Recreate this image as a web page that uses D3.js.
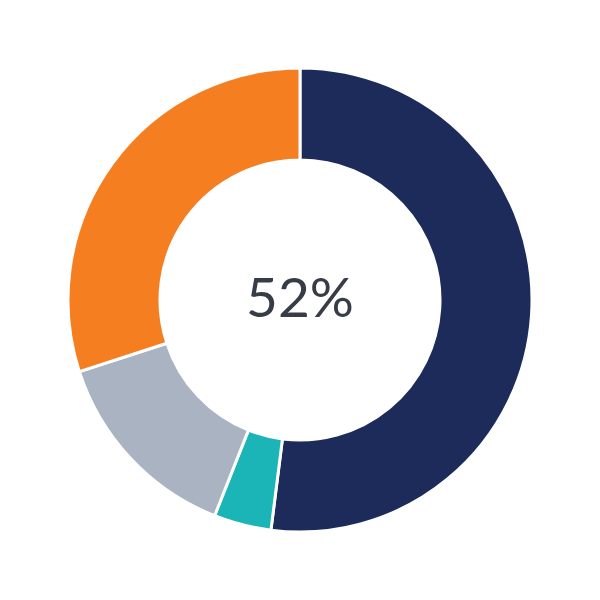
<!DOCTYPE html>
<html>
<head>
<meta charset="utf-8">
<script src="https://cdn.jsdelivr.net/npm/d3@7"></script>
<style>
  body { margin: 0; background: #fff; }
</style>
</head>
<body>
<div class="chart"></div>
<script>
const labels = ["A", "B", "C", "D"]
const values = [52, 4, 14, 30]
const colors = ["#1c2b5a", "#1bb5b8", "#a9b3c2", "#f47e20"]
const centerLabel = "52%"

const width = 600
const height = 600
const outer = 232
const inner = 140

const svg = d3.select(".chart")
  .append("svg")
  .attr("width", width)
  .attr("height", height)

const g = svg.append("g")
  .attr("transform", `translate(${width / 2},${height / 2})`)

const pie = d3.pie().sort(null).value(d => d)
const arc = d3.arc().innerRadius(inner).outerRadius(outer)

g.selectAll("path")
  .data(pie(values))
  .join("path")
  .attr("d", arc)
  .attr("fill", (d, i) => colors[i])
  .attr("stroke", "#fff")
  .attr("stroke-width", 3)

g.append("text")
  .attr("text-anchor", "middle")
  .attr("dy", "0.3em")
  .style("font-family", "Lato")
  .style("font-weight", 400)
  .style("font-size", "55px")
  .attr("fill", "#363d47")
  .text(centerLabel)
</script>
</body>
</html>
